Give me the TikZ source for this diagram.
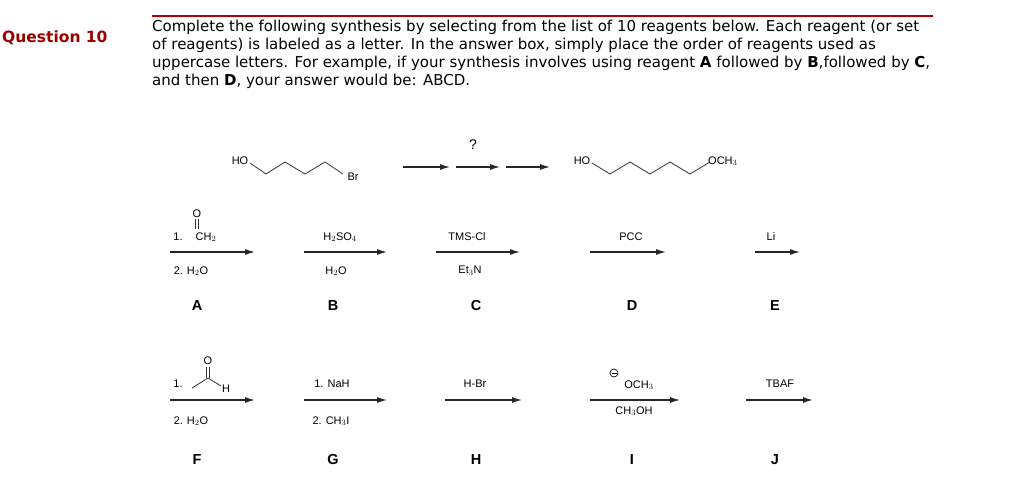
\documentclass[tikz,border=0pt]{standalone}
\usepackage{fontspec}
\setmainfont{Liberation Sans}
\newfontfamily\qfont{DejaVu Sans}
\usetikzlibrary{arrows.meta}
\begin{document}
\begin{tikzpicture}[x=1pt,y=-1pt,
  txt/.style={anchor=west,inner sep=0pt,font=\qfont\fontsize{15}{17}\selectfont},
  lab/.style={inner sep=0pt,font=\fontsize{11}{13}\selectfont},
  let/.style={inner sep=0pt,font=\bfseries\fontsize{14.5}{16}\selectfont},
  rx/.style={-{Latex[length=10pt,width=6pt]},line width=1.2pt,color=black!85},
  bond/.style={line width=0.8pt,color=black!80}]
\useasboundingbox (0,0) rectangle (1024,492);
\draw[line width=1.6pt,color=red!70!black] (152,16) -- (933,16);
\node[anchor=west,inner sep=0pt,text=red!60!black,font=\qfont\bfseries\fontsize{15.5}{17}\selectfont] (q) at (2,38) {Question 10};
\node[txt] (t1) at (152,27) {Complete the following synthesis by selecting from the list of 10 reagents below. Each reagent (or set};
\node[txt] (t2) at (152,45) {of reagents) is labeled as a letter. In the answer box, simply place the order of reagents used as};
\node[txt] (t3) at (152,63) {uppercase letters. For example, if your synthesis involves using reagent \textbf{A} followed by \textbf{B},followed by \textbf{C},};
\node[txt] (t4) at (152,81) {and then \textbf{D}, your answer would be: ABCD.};
% start molecule
\node[lab] (sho) at (240,161) {HO};
\draw[bond] (250,163) -- (266,174) -- (285,162) -- (305,174) -- (325,162) -- (343,174);
\node[lab] (sbr) at (353,177) {Br};
% arrows
\coordinate (a1) at (403,167); \coordinate (a2) at (450,167);
\coordinate (a3) at (456,167); \coordinate (a4) at (500,167);
\coordinate (a5) at (506,167); \coordinate (a6) at (550,167);
\draw[rx] (a1) -- (a2); \draw[rx] (a3) -- (a4); \draw[rx] (a5) -- (a6);
\node[font=\fontsize{14}{16}\selectfont,inner sep=0pt] (qm) at (473,145) {?};
% product
\node[lab] (pho) at (582,161) {HO};
\draw[bond] (592,163) -- (610,174) -- (630,162) -- (650,174) -- (670,162) -- (690,174) -- (710,162);
\node[lab,anchor=west] (poc) at (708,161) {OCH$_3$};
% Row 1
\foreach \n/\xa/\xb/\xl in {A/170/255/197,B/304/387/333,C/436/520/476,D/590/666/632,E/755/800/775}{
  \coordinate (s\n) at (\xa,252); \coordinate (e\n) at (\xb,252);
  \draw[rx] (s\n) -- (e\n);
  \node[let] (L\n) at (\xl,306) {\n};
}
\node[lab] (a1n) at (178,237) {1.};
\node[lab] (aO) at (197,214) {O};
\draw[bond] (195.5,219) -- (195.5,229); \draw[bond] (198.5,219) -- (198.5,229);
\node[lab] (ach) at (206,237) {CH$_2$};
\node[lab] (ah) at (191,271) {2. H$_2$O};
\node[lab] (b1) at (340,237) {H$_2$SO$_4$};
\node[lab] (b2) at (336,271) {H$_2$O};
\node[lab] (c1) at (467,237) {TMS-Cl};
\node[lab] (c2) at (470,271) {Et$_3$N};
\node[lab] (d1) at (631,237) {PCC};
\node[lab] (e1) at (771,237) {Li};
% Row 2
\foreach \n/\xa/\xb/\xl in {F/170/255/197,G/304/387/333,H/445/522/476,I/590/680/632,J/746/813/775}{
  \coordinate (s\n) at (\xa,400); \coordinate (e\n) at (\xb,400);
  \draw[rx] (s\n) -- (e\n);
  \node[let] (L\n) at (\xl,460) {\n};
}
\node[lab] (f1n) at (178,384) {1.};
\draw[bond] (192,388) -- (208,378) -- (221,386);
\draw[bond] (206.5,378) -- (206.5,367); \draw[bond] (209.5,378) -- (209.5,367);
\node[lab] (fO) at (208,361) {O};
\node[lab] (fH) at (226,389) {H};
\node[lab] (fh) at (191,421) {2. H$_2$O};
\node[lab] (g1) at (332,384) {1. NaH};
\node[lab] (g2) at (331,421) {2. CH$_3$I};
\node[lab] (h1) at (475,384) {H-Br};
\node[draw,circle,inner sep=0pt,minimum size=8pt,line width=0.7pt] (im) at (614,373) {};
\draw[line width=0.7pt] (611.5,373) -- (616.5,373);
\node[lab] (i1) at (639,385) {OCH$_3$};
\node[lab] (i2) at (634,411) {CH$_3$OH};
\node[lab] (j1) at (780,384) {TBAF};
\end{tikzpicture}
\end{document}
